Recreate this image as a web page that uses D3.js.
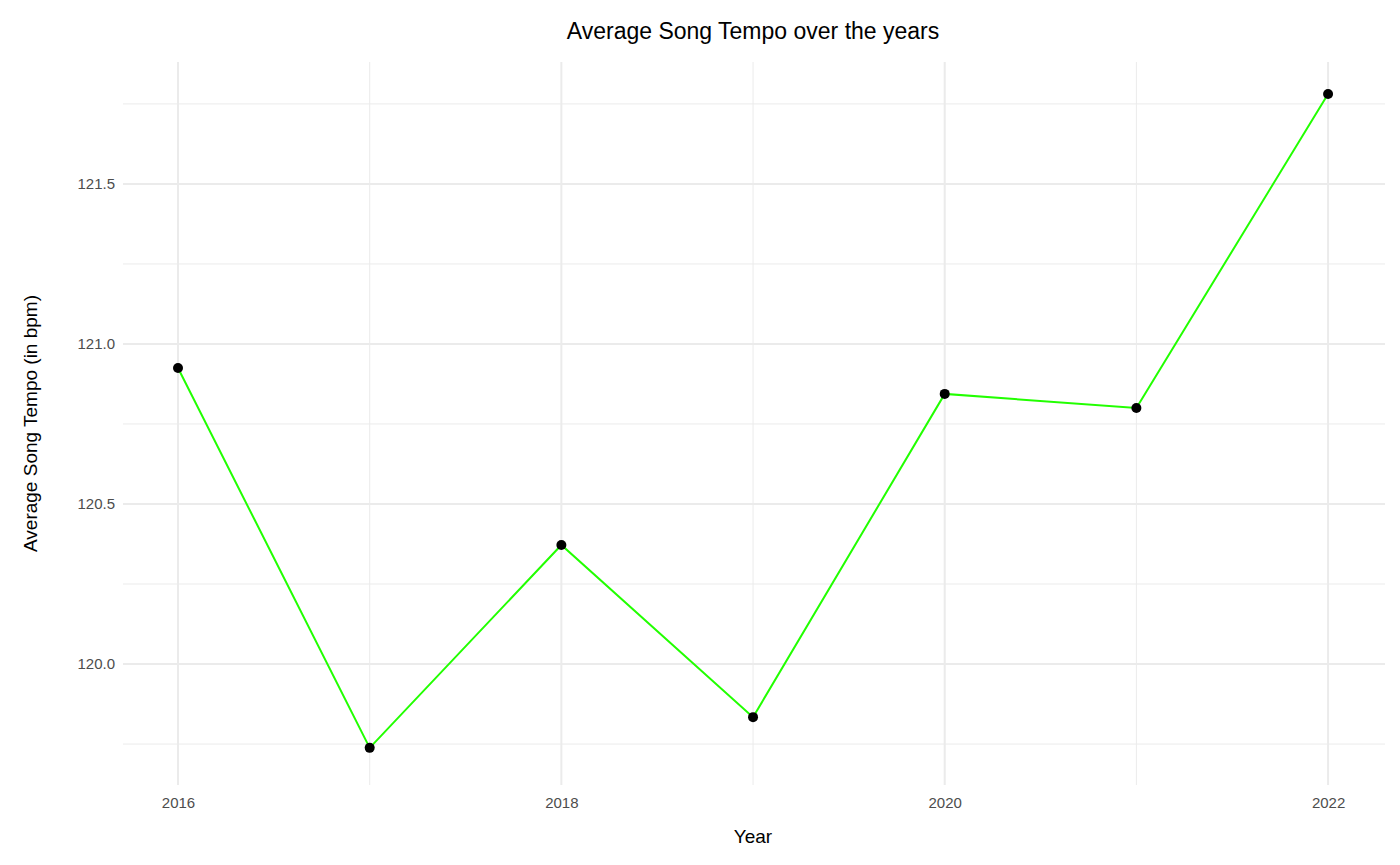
<!DOCTYPE html>
<html>
<head>
<meta charset="utf-8">
<script src="https://cdn.jsdelivr.net/npm/d3@7"></script>
<style>
  body { margin: 0; background: #fff; }
  text { font-family: "Liberation Sans", Arial, sans-serif; }
</style>
</head>
<body>
<svg id="chart" width="1400" height="865"></svg>
<script>
// Data
const years = [2016, 2017, 2018, 2019, 2020, 2021, 2022];
const tempo = [120.925, 119.738, 120.372, 119.834, 120.844, 120.800, 121.781];
const xTicks = [2016, 2018, 2020, 2022];
const yTicks = [120.0, 120.5, 121.0, 121.5];

const svg = d3.select('#chart');
const pLeft = 123, pRight = 1385, pTop = 62, pBottom = 785;

const x = d3.scaleLinear().domain([2015.713, 2022.297]).range([pLeft, pRight]);
const y = d3.scaleLinear().domain([119.622, 121.881]).range([pBottom, pTop]);

const grid = svg.append('g');
// minor grid
[2017, 2019, 2021].forEach(v => grid.append('line')
  .attr('x1', x(v)).attr('x2', x(v)).attr('y1', pTop).attr('y2', pBottom)
  .attr('stroke', '#ebebeb').attr('stroke-width', 1));
[119.75, 120.25, 120.75, 121.25, 121.75].forEach(v => grid.append('line')
  .attr('x1', pLeft).attr('x2', pRight).attr('y1', y(v)).attr('y2', y(v))
  .attr('stroke', '#ebebeb').attr('stroke-width', 1));
// major grid
xTicks.forEach(v => grid.append('line')
  .attr('x1', x(v)).attr('x2', x(v)).attr('y1', pTop).attr('y2', pBottom)
  .attr('stroke', '#ebebeb').attr('stroke-width', 2));
yTicks.forEach(v => grid.append('line')
  .attr('x1', pLeft).attr('x2', pRight).attr('y1', y(v)).attr('y2', y(v))
  .attr('stroke', '#ebebeb').attr('stroke-width', 2));

// Axes
const xAxis = svg.append('g')
  .attr('transform', `translate(0,${pBottom})`)
  .call(d3.axisBottom(x).tickValues(xTicks).tickFormat(d3.format('d')).tickSize(0).tickPadding(12));
const yAxis = svg.append('g')
  .attr('transform', `translate(${pLeft},0)`)
  .call(d3.axisLeft(y).tickValues(yTicks).tickFormat(d3.format('.1f')).tickSize(0).tickPadding(8));
[xAxis, yAxis].forEach(a => {
  a.select('.domain').remove();
  a.selectAll('text').style('font-size', '15px').attr('fill', '#4d4d4d')
    .style('font-family', '"Liberation Sans", Arial, sans-serif');
});

const data = years.map((yr, i) => ({ yr, v: tempo[i] }));

svg.append('path')
  .datum(data)
  .attr('fill', 'none')
  .attr('stroke', '#22ff00')
  .attr('stroke-width', 2)
  .attr('d', d3.line().x(d => x(d.yr)).y(d => y(d.v)));

svg.selectAll('.dot')
  .data(data)
  .enter()
  .append('circle')
  .attr('cx', d => x(d.yr))
  .attr('cy', d => y(d.v))
  .attr('r', 5)
  .attr('fill', '#000');

// Labels
svg.append('text').attr('x', 753).attr('y', 39).attr('text-anchor', 'middle')
  .style('font-size', '23px').text('Average Song Tempo over the years');
svg.append('text').attr('x', 753).attr('y', 843).attr('text-anchor', 'middle')
  .style('font-size', '19px').text('Year');
svg.append('text').attr('transform', `translate(37,${(pTop + pBottom) / 2}) rotate(-90)`)
  .attr('text-anchor', 'middle').style('font-size', '19px')
  .text('Average Song Tempo (in bpm)');
</script>
</body>
</html>
